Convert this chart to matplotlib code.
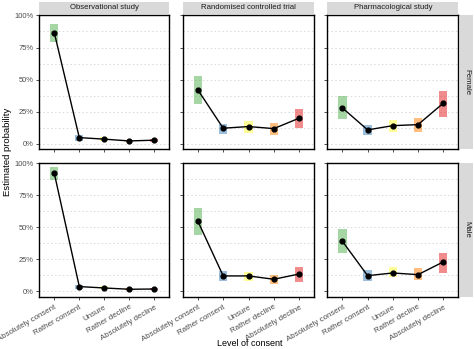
import matplotlib
matplotlib.use('Agg')
import matplotlib.pyplot as plt
from matplotlib.patches import Rectangle
from matplotlib.ticker import FixedLocator, PercentFormatter

plt.rcParams['font.family'] = ['Liberation Sans', 'DejaVu Sans']

# 数据
levels = ['Absolutely consent', 'Rather consent', 'Unsure', 'Rather decline', 'Absolutely decline']
studies = ['Observational study', 'Randomised controlled trial', 'Pharmacological study']
sexes = ['Female', 'Male']
colors = ['#4DAF4A', '#377EB8', '#FFFF33', '#FF7F00', '#E41A1C']

# 估计值 (female / male, 每个研究类型)
female_est = [[0.865, 0.049, 0.037, 0.023, 0.029],
              [0.42, 0.122, 0.135, 0.119, 0.20],
              [0.28, 0.109, 0.142, 0.15, 0.316]]
female_lo = [[0.79, 0.025, 0.025, 0.015, 0.018],
             [0.31, 0.078, 0.088, 0.072, 0.12],
             [0.19, 0.07, 0.096, 0.096, 0.212]]
female_hi = [[0.93, 0.07, 0.05, 0.033, 0.04],
             [0.53, 0.155, 0.18, 0.165, 0.27],
             [0.37, 0.148, 0.186, 0.2, 0.414]]
male_est = [[0.92, 0.037, 0.026, 0.016, 0.018],
            [0.547, 0.12, 0.12, 0.094, 0.135],
            [0.39, 0.122, 0.143, 0.13, 0.229]]
male_lo = [[0.867, 0.02, 0.015, 0.008, 0.01],
           [0.44, 0.08, 0.08, 0.06, 0.075],
           [0.295, 0.08, 0.11, 0.085, 0.145]]
male_hi = [[0.966, 0.05, 0.038, 0.025, 0.028],
           [0.648, 0.159, 0.15, 0.125, 0.19],
           [0.484, 0.165, 0.19, 0.18, 0.30]]

est = [female_est, male_est]
lo = [female_lo, male_lo]
hi = [female_hi, male_hi]

W, H = 474, 349
fig = plt.figure(figsize=(W / 100, H / 100), dpi=100)

col_x = [(39.3, 169.3), (182.7, 314.3), (327.3, 458.3)]
row_y = [(15, 149.3), (162.7, 296.7)]

def box(x0, x1, y0, y1):
    return [x0 / W, 1 - y1 / H, (x1 - x0) / W, (y1 - y0) / H]

xs = list(range(1, 6))
for r in range(2):
    for c in range(3):
        ax = fig.add_axes(box(col_x[c][0], col_x[c][1], row_y[r][0], row_y[r][1]))
        ax.set_xlim(0.4, 5.6)
        ax.set_ylim(-0.042, 1.003)
        for v in [i * 0.125 for i in range(9)]:
            ax.axhline(v, color='#d9d9d9', lw=0.7, ls=(0, (1.5, 2.5)), zorder=0)
        for i in range(5):
            ax.add_patch(Rectangle((xs[i] - 0.165, lo[r][c][i]), 0.33, hi[r][c][i] - lo[r][c][i],
                                   facecolor=colors[i], alpha=0.5, edgecolor='none', zorder=1))
        ax.plot(xs, est[r][c], color='black', lw=1.0, zorder=2)
        ax.scatter(xs, est[r][c], s=12, color='black', zorder=3)
        for s in ax.spines.values():
            s.set_linewidth(1.0)
        ax.yaxis.set_major_locator(FixedLocator([0, 0.25, 0.5, 0.75, 1.0]))
        ax.yaxis.set_major_formatter(PercentFormatter(1.0, decimals=0))
        ax.set_xticks(xs)
        ax.tick_params(axis='y', length=2.5, width=0.6, colors='#333333', labelsize=5.4, pad=1.5, labelcolor='#4d4d4d')
        ax.tick_params(axis='x', length=2.5, width=0.6, colors='#333333', labelsize=5.7, pad=2.5, labelcolor='#4d4d4d')
        if c != 0:
            ax.set_yticklabels([])
        if r == 1:
            ax.set_xticklabels(levels, rotation=30, ha='right', rotation_mode='anchor')
        else:
            ax.set_xticklabels([])

# 条带
for c in range(3):
    sax = fig.add_axes(box(col_x[c][0], col_x[c][1], 1.5, 14))
    sax.set_facecolor('#d9d9d9')
    sax.set_xticks([]); sax.set_yticks([])
    for s in sax.spines.values():
        s.set_visible(False)
    sax.text(0.5, 0.5, studies[c], ha='center', va='center', fontsize=5.6, color='#1a1a1a', transform=sax.transAxes)
for r in range(2):
    sax = fig.add_axes(box(460, 473, row_y[r][0], row_y[r][1]))
    sax.set_facecolor('#d9d9d9')
    sax.set_xticks([]); sax.set_yticks([])
    for s in sax.spines.values():
        s.set_visible(False)
    sax.text(0.5, 0.5, sexes[r], ha='center', va='center', rotation=-90, fontsize=5.6, color='#1a1a1a', transform=sax.transAxes)

fig.text(8 / W, 1 - 152 / H, 'Estimated probability', rotation=90, ha='center', va='center', fontsize=6.8)
fig.text(250 / W, 1 - 344 / H, 'Level of consent', ha='center', va='center', fontsize=6.5)

fig.savefig('out.png', dpi=100)
